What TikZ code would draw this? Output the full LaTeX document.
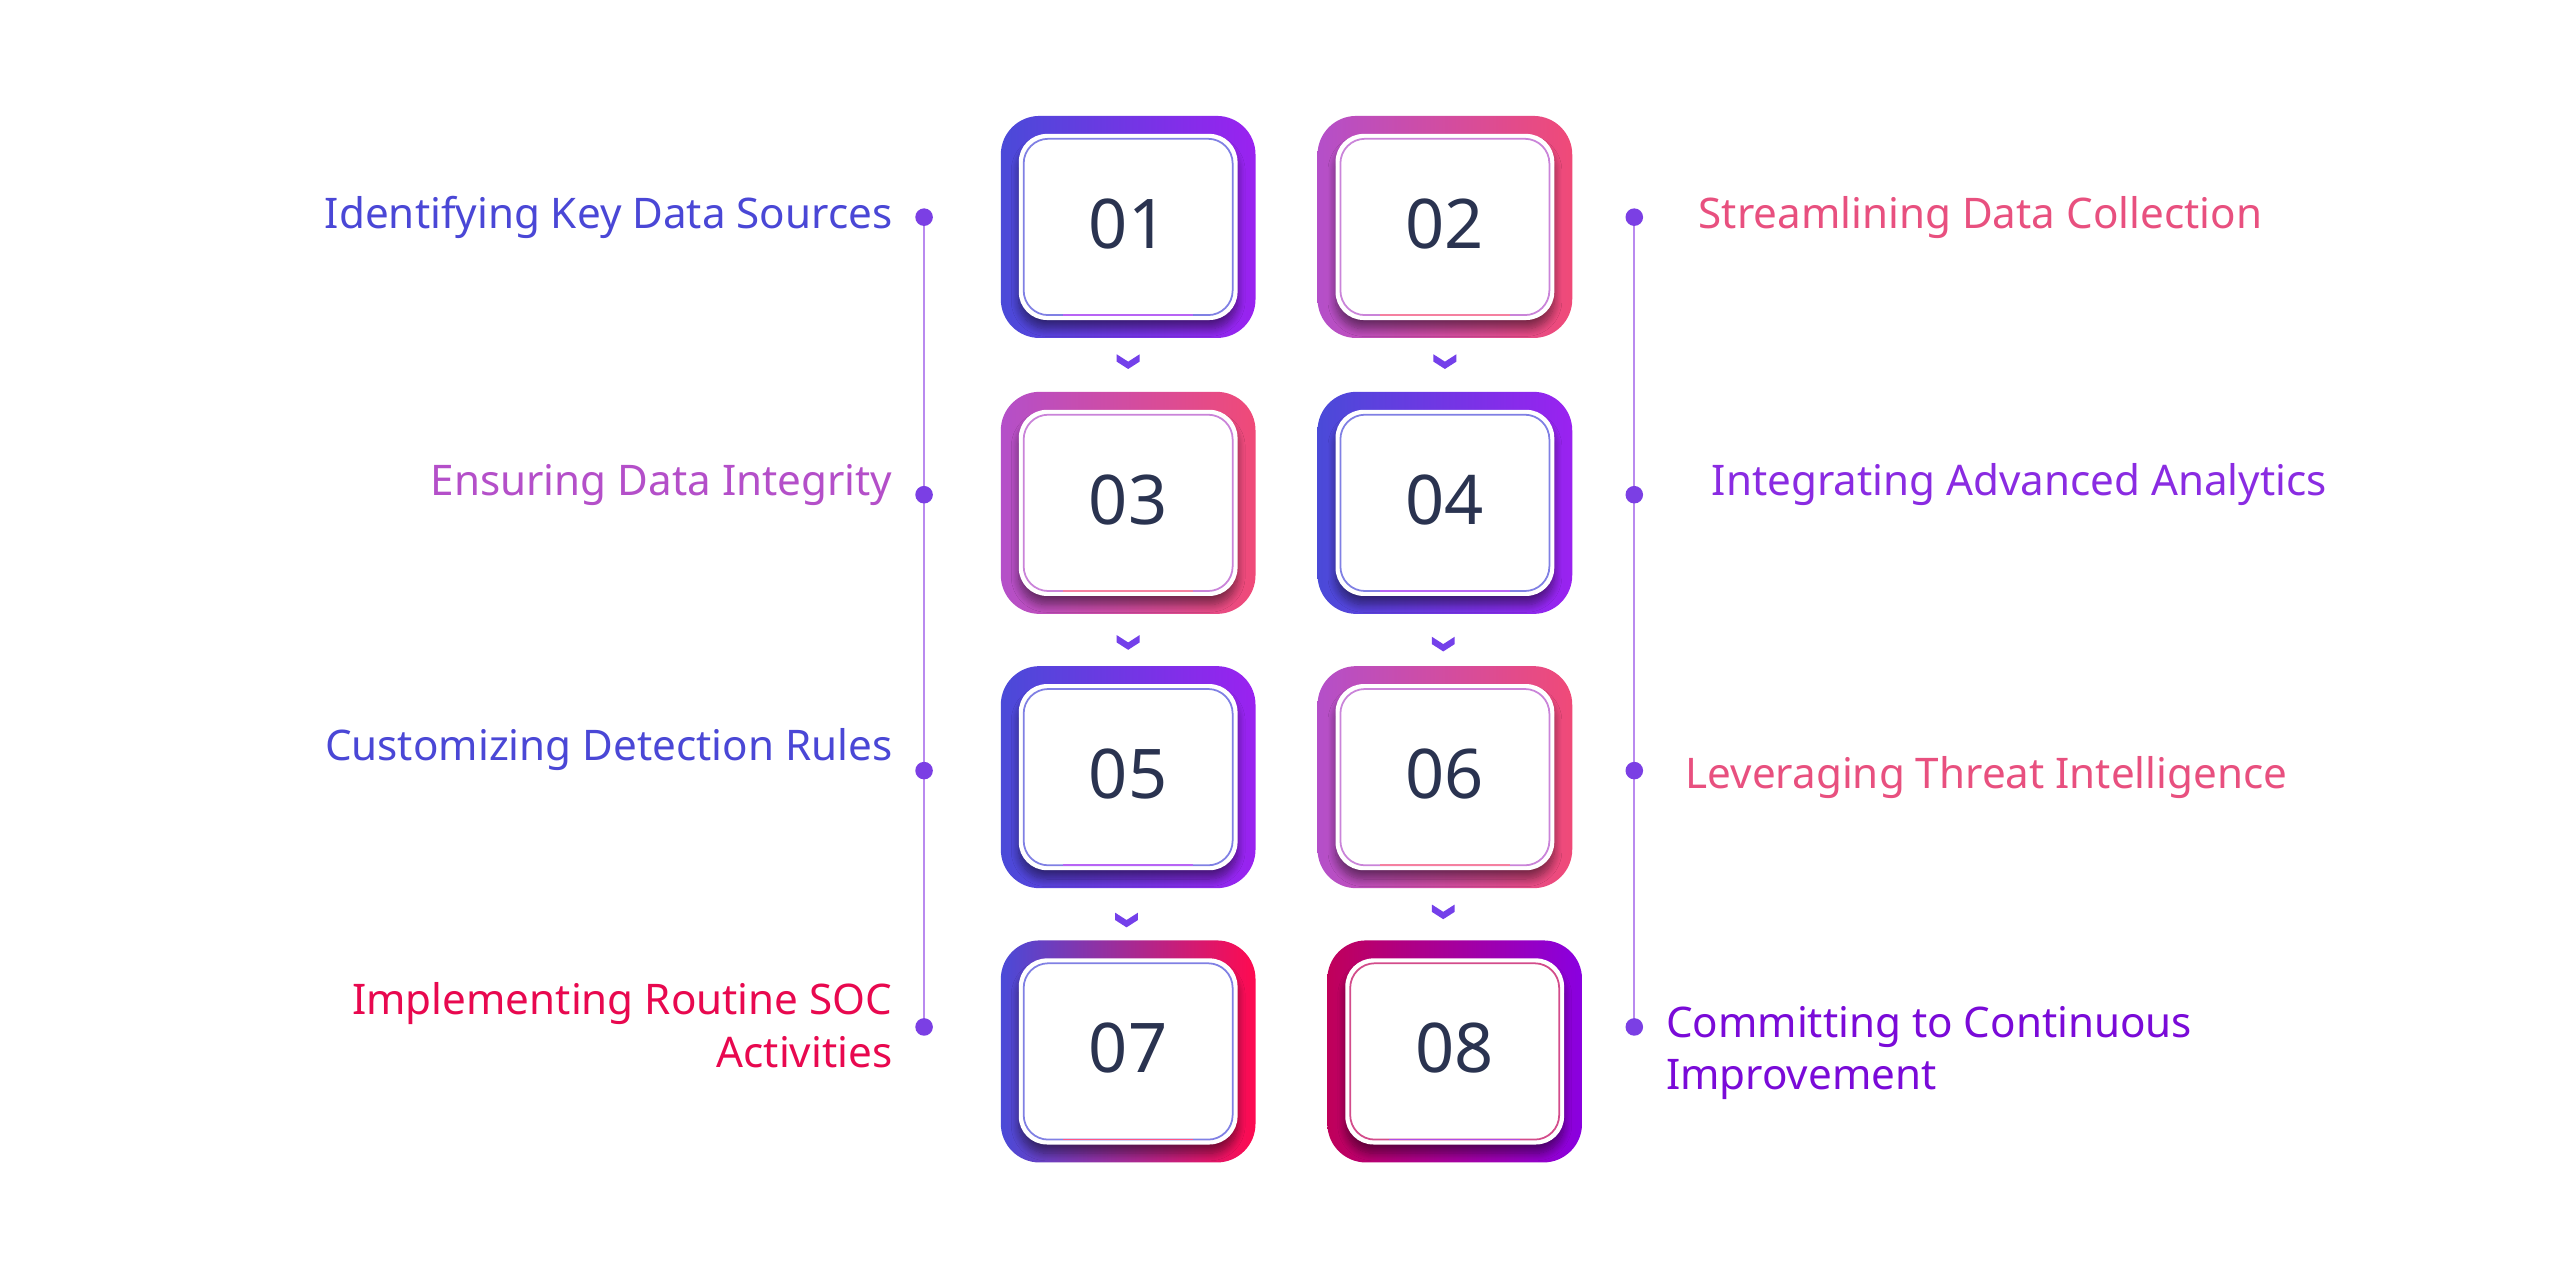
\documentclass[tikz,border=0pt]{standalone}
\usepackage{fontspec}
\setmainfont{Noto Sans}
\usetikzlibrary{shadows.blur}
\definecolor{navy}{HTML}{2A3350}
\definecolor{cA}{HTML}{4A4AD8}\definecolor{cB}{HTML}{9A22F0}
\definecolor{cC}{HTML}{B44FC9}\definecolor{cD}{HTML}{F04A78}
\definecolor{cE}{HTML}{FF0A50}\definecolor{cF}{HTML}{C0005A}\definecolor{cG}{HTML}{8A00E0}
\definecolor{dotc}{HTML}{7B3FE4}\definecolor{linec}{HTML}{B98AEF}
\definecolor{chev}{HTML}{7440EA}
\definecolor{tA}{HTML}{4A47D6}\definecolor{tB}{HTML}{E8507F}\definecolor{tC}{HTML}{B44FC9}
\definecolor{tD}{HTML}{8A2BE2}\definecolor{tE}{HTML}{E8084F}\definecolor{tF}{HTML}{7A0AD8}
\tikzset{
 lbl/.style={font=\fontsize{12}{15}\selectfont, inner sep=0pt},
 num/.style={font=\fontsize{19.5}{22}\selectfont, text=navy, inner sep=0pt},
 dotm/.style={circle, fill=dotc, minimum size=5pt, inner sep=0pt},
}
\newcommand\stepbox[6]{% name cx cy left right num
 \shade[left color=#4,right color=#5,rounded corners=11pt] (#2-78,#3-68) rectangle (#2+78,#3+68);
 \fill[white,rounded corners=8pt,blur shadow={shadow xshift=0pt,shadow yshift=-2.5pt,shadow blur steps=10,shadow opacity=45}] (#2-67,#3-57) rectangle (#2+67,#3+57);
 \draw[#4!70!white,line width=0.5pt,rounded corners=7pt] (#2-64,#3-54) rectangle (#2+64,#3+54);
 \draw[#5!70!white,line width=0.5pt] (#2+40,#3+54) -- (#2-40,#3+54);
 \node[num] (#1) at (#2,#3-2) {#6};
}
\newcommand\chevron[2]{\fill[chev] (#1-7,#2-4) -- (#1,#2+0.5) -- (#1+7,#2-4) -- (#1+7,#2+0.5) -- (#1,#2+5) -- (#1-7,#2+0.5) -- cycle;}
\begin{document}
\begin{tikzpicture}[x=0.016327cm,y=-0.016327cm]
\useasboundingbox (0,0) rectangle (1568,784);
\fill[white] (0,0) rectangle (1568,784);
% lines and dots
\coordinate (l1) at (566,133);\coordinate (l4) at (566,629);
\coordinate (r1) at (1001,133);\coordinate (r4) at (1001,629);
\draw[linec,line width=0.6pt] (l1) -- (l4);
\draw[linec,line width=0.6pt] (r1) -- (r4);
\foreach \y/\n in {133/1,303/2,472/3,629/4}{\node[dotm] (ld\n) at (566,\y) {};\node[dotm] (rd\n) at (1001,\y) {};}
% boxes
\stepbox{b1}{691}{139}{cA}{cB}{01}
\stepbox{b2}{885}{139}{cC}{cD}{02}
\stepbox{b3}{691}{308}{cC}{cD}{03}
\stepbox{b4}{885}{308}{cA}{cB}{04}
\stepbox{b5}{691}{476}{cA}{cB}{05}
\stepbox{b6}{885}{476}{cC}{cD}{06}
\stepbox{b7}{691}{644}{cA}{cE}{07}
\stepbox{b8}{891}{644}{cF}{cG}{08}
\chevron{691}{221}\chevron{885}{221}
\chevron{691}{393}\chevron{884}{394}
\chevron{690}{563}\chevron{884}{558}
% labels
\node[lbl,text=tA,anchor=east] (t1) at (547,133) {Identifying Key Data Sources};
\node[lbl,text=tC,anchor=east] (t3) at (547,297) {Ensuring Data Integrity};
\node[lbl,text=tA,anchor=east] (t5) at (547,459) {Customizing Detection Rules};
\node[lbl,text=tE,anchor=east,align=right] (t7) at (547,628) {Implementing Routine SOC\\Activities};
\node[lbl,text=tB,anchor=west] (t2) at (1040,133) {Streamlining Data Collection};
\node[lbl,text=tD,anchor=west] (t4) at (1048,297) {Integrating Advanced Analytics};
\node[lbl,text=tB,anchor=west] (t6) at (1032,476) {Leveraging Threat Intelligence};
\node[lbl,text=tF,anchor=west,align=left] (t8) at (1020,645) {Committing to Continuous\\Improvement};
\end{tikzpicture}
\end{document}
